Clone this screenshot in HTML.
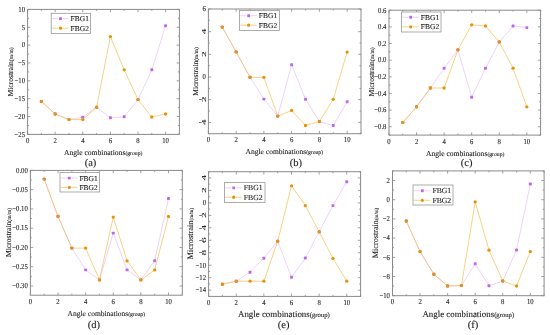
<!DOCTYPE html>
<html lang="en"><head><meta charset="utf-8"><title>FBG microstrain vs angle combinations</title>
<style>
html,body{margin:0;padding:0;background:#fff;}
svg{display:block;font-family:"Liberation Serif","Times New Roman",serif;fill:#262626;}
text{stroke:#262626;stroke-width:0.12px;text-rendering:geometricPrecision;}
</style></head><body>
<svg width="550" height="335" viewBox="0 0 550 335">
<rect width="550" height="335" fill="#fff"/>
<g id="chart-a">
<path d="M27.6 134.4v-2.8M27.6 9.4v2.8M41.4 134.4v-1.5M41.4 9.4v1.5M55.2 134.4v-2.8M55.2 9.4v2.8M69 134.4v-1.5M69 9.4v1.5M82.8 134.4v-2.8M82.8 9.4v2.8M96.6 134.4v-1.5M96.6 9.4v1.5M110.4 134.4v-2.8M110.4 9.4v2.8M124.2 134.4v-1.5M124.2 9.4v1.5M138 134.4v-2.8M138 9.4v2.8M151.8 134.4v-1.5M151.8 9.4v1.5M165.6 134.4v-2.8M165.6 9.4v2.8M179.4 134.4v-1.5M179.4 9.4v1.5M27.6 9.4h2.8M179.4 9.4h-2.8M27.6 18.33h1.5M179.4 18.33h-1.5M27.6 27.26h2.8M179.4 27.26h-2.8M27.6 36.19h1.5M179.4 36.19h-1.5M27.6 45.11h2.8M179.4 45.11h-2.8M27.6 54.04h1.5M179.4 54.04h-1.5M27.6 62.97h2.8M179.4 62.97h-2.8M27.6 71.9h1.5M179.4 71.9h-1.5M27.6 80.83h2.8M179.4 80.83h-2.8M27.6 89.76h1.5M179.4 89.76h-1.5M27.6 98.69h2.8M179.4 98.69h-2.8M27.6 107.61h1.5M179.4 107.61h-1.5M27.6 116.54h2.8M179.4 116.54h-2.8M27.6 125.47h1.5M179.4 125.47h-1.5M27.6 134.4h2.8M179.4 134.4h-2.8" stroke="#8a8a8a" stroke-width="0.8" fill="none"/>
<rect x="27.6" y="9.4" width="151.8" height="125" fill="none" stroke="#8a8a8a" stroke-width="1"/>
<text transform="translate(27.6 143.1) scale(0.88,1)" font-size="7.6" text-anchor="middle">0</text>
<text transform="translate(55.2 143.1) scale(0.88,1)" font-size="7.6" text-anchor="middle">2</text>
<text transform="translate(82.8 143.1) scale(0.88,1)" font-size="7.6" text-anchor="middle">4</text>
<text transform="translate(110.4 143.1) scale(0.88,1)" font-size="7.6" text-anchor="middle">6</text>
<text transform="translate(138 143.1) scale(0.88,1)" font-size="7.6" text-anchor="middle">8</text>
<text transform="translate(165.6 143.1) scale(0.88,1)" font-size="7.6" text-anchor="middle">10</text>
<text transform="translate(25 11.7) scale(0.88,1)" font-size="7.6" text-anchor="end">10</text>
<text transform="translate(25 29.56) scale(0.88,1)" font-size="7.6" text-anchor="end">5</text>
<text transform="translate(25 47.41) scale(0.88,1)" font-size="7.6" text-anchor="end">0</text>
<text transform="translate(25 65.27) scale(0.88,1)" font-size="7.6" text-anchor="end">−5</text>
<text transform="translate(25 83.13) scale(0.88,1)" font-size="7.6" text-anchor="end">−10</text>
<text transform="translate(25 100.99) scale(0.88,1)" font-size="7.6" text-anchor="end">−15</text>
<text transform="translate(25 118.84) scale(0.88,1)" font-size="7.6" text-anchor="end">−20</text>
<text transform="translate(25 136.7) scale(0.88,1)" font-size="7.6" text-anchor="end">−25</text>
<polyline points="41.4,101.4 55.2,114 69,119.6 82.8,117.2 96.6,107.2 110.4,117.8 124.2,116.8 138,99.6 151.8,69.8 165.6,25.8" fill="none" stroke="#e6bffb" stroke-width="0.7"/>
<rect x="39.95" y="99.95" width="2.9" height="2.9" rx="0.7" fill="#bd66ee"/>
<rect x="53.75" y="112.55" width="2.9" height="2.9" rx="0.7" fill="#bd66ee"/>
<rect x="67.55" y="118.15" width="2.9" height="2.9" rx="0.7" fill="#bd66ee"/>
<rect x="81.35" y="115.75" width="2.9" height="2.9" rx="0.7" fill="#bd66ee"/>
<rect x="95.15" y="105.75" width="2.9" height="2.9" rx="0.7" fill="#bd66ee"/>
<rect x="108.95" y="116.35" width="2.9" height="2.9" rx="0.7" fill="#bd66ee"/>
<rect x="122.75" y="115.35" width="2.9" height="2.9" rx="0.7" fill="#bd66ee"/>
<rect x="136.55" y="98.15" width="2.9" height="2.9" rx="0.7" fill="#bd66ee"/>
<rect x="150.35" y="68.35" width="2.9" height="2.9" rx="0.7" fill="#bd66ee"/>
<rect x="164.15" y="24.35" width="2.9" height="2.9" rx="0.7" fill="#bd66ee"/>
<polyline points="41.4,101.4 55.2,114 69,119.6 82.8,119.6 96.6,107.2 110.4,36.6 124.2,69.8 138,99.6 151.8,117 165.6,114" fill="none" stroke="#f4bf50" stroke-width="0.7"/>
<circle cx="41.4" cy="101.4" r="1.65" fill="#e8920a"/>
<circle cx="55.2" cy="114" r="1.65" fill="#e8920a"/>
<circle cx="69" cy="119.6" r="1.65" fill="#e8920a"/>
<circle cx="82.8" cy="119.6" r="1.65" fill="#e8920a"/>
<circle cx="96.6" cy="107.2" r="1.65" fill="#e8920a"/>
<circle cx="110.4" cy="36.6" r="1.65" fill="#e8920a"/>
<circle cx="124.2" cy="69.8" r="1.65" fill="#e8920a"/>
<circle cx="138" cy="99.6" r="1.65" fill="#e8920a"/>
<circle cx="151.8" cy="117" r="1.65" fill="#e8920a"/>
<circle cx="165.6" cy="114" r="1.65" fill="#e8920a"/>
<rect x="51.2" y="13.3" width="39.4" height="20.1" fill="#fff" stroke="#989898" stroke-width="0.8"/>
<path d="M52 18.63H58.3M62.7 18.63H68.6" stroke="#e6bffb" stroke-width="0.7"/>
<rect x="59.05" y="17.18" width="2.9" height="2.9" rx="0.7" fill="#bd66ee"/>
<text x="70.6" y="21.23" font-size="7.5" stroke-width="0.2">FBG1</text>
<path d="M52 28.17H58.3M62.7 28.17H68.6" stroke="#f4bf50" stroke-width="0.7"/>
<circle cx="60.5" cy="28.17" r="1.65" fill="#e8920a"/>
<text x="70.6" y="30.77" font-size="7.5" stroke-width="0.2">FBG2</text>
<text x="64" y="155.05" font-size="7.6">Angle combinations<tspan font-size="5.7">(group)</tspan></text>
<text transform="translate(13.3 72) rotate(-90)" font-size="7.6" text-anchor="middle">Microstrain<tspan font-size="5.47">(m/m)</tspan></text>
<text x="90.5" y="166.2" font-size="10.5" text-anchor="middle" fill="#1a1a1a">(a)</text>
</g>
<g id="chart-b">
<path d="M208.4 133.7v-2.8M208.4 9v2.8M222.27 133.7v-1.5M222.27 9v1.5M236.15 133.7v-2.8M236.15 9v2.8M250.02 133.7v-1.5M250.02 9v1.5M263.89 133.7v-2.8M263.89 9v2.8M277.76 133.7v-1.5M277.76 9v1.5M291.64 133.7v-2.8M291.64 9v2.8M305.51 133.7v-1.5M305.51 9v1.5M319.38 133.7v-2.8M319.38 9v2.8M333.25 133.7v-1.5M333.25 9v1.5M347.13 133.7v-2.8M347.13 9v2.8M361 133.7v-1.5M361 9v1.5M208.4 9h2.8M361 9h-2.8M208.4 20.34h1.5M361 20.34h-1.5M208.4 31.67h2.8M361 31.67h-2.8M208.4 43.01h1.5M361 43.01h-1.5M208.4 54.35h2.8M361 54.35h-2.8M208.4 65.68h1.5M361 65.68h-1.5M208.4 77.02h2.8M361 77.02h-2.8M208.4 88.35h1.5M361 88.35h-1.5M208.4 99.69h2.8M361 99.69h-2.8M208.4 111.03h1.5M361 111.03h-1.5M208.4 122.36h2.8M361 122.36h-2.8M208.4 133.7h1.5M361 133.7h-1.5" stroke="#8a8a8a" stroke-width="0.8" fill="none"/>
<rect x="208.4" y="9" width="152.6" height="124.7" fill="none" stroke="#8a8a8a" stroke-width="1"/>
<text transform="translate(208.4 142.4) scale(0.88,1)" font-size="7.6" text-anchor="middle">0</text>
<text transform="translate(236.15 142.4) scale(0.88,1)" font-size="7.6" text-anchor="middle">2</text>
<text transform="translate(263.89 142.4) scale(0.88,1)" font-size="7.6" text-anchor="middle">4</text>
<text transform="translate(291.64 142.4) scale(0.88,1)" font-size="7.6" text-anchor="middle">6</text>
<text transform="translate(319.38 142.4) scale(0.88,1)" font-size="7.6" text-anchor="middle">8</text>
<text transform="translate(347.13 142.4) scale(0.88,1)" font-size="7.6" text-anchor="middle">10</text>
<text transform="translate(205.8 11.3) scale(0.88,1)" font-size="7.6" text-anchor="end">6</text>
<text transform="translate(205.7 31.47) rotate(-90) scale(1.5,0.8)" font-size="7.6" text-anchor="middle">4</text>
<text transform="translate(205.7 54.15) rotate(-90) scale(1.5,0.8)" font-size="7.6" text-anchor="middle">2</text>
<text transform="translate(205.8 79.32) scale(0.88,1)" font-size="7.6" text-anchor="end">0</text>
<text transform="translate(205.7 99.49) rotate(-90) scale(1.5,0.8)" font-size="7.6" text-anchor="middle">2</text>
<text x="201.8" y="101.39" font-size="5.4" text-anchor="end">−</text>
<text transform="translate(205.7 122.16) rotate(-90) scale(1.5,0.8)" font-size="7.6" text-anchor="middle">4</text>
<text x="201.8" y="124.06" font-size="5.4" text-anchor="end">−</text>
<polyline points="222.27,27.1 236.15,51.9 250.02,77.3 263.89,99.1 277.76,116.1 291.64,64.8 305.51,99.3 319.38,121.5 333.25,125.5 347.13,101.7" fill="none" stroke="#e6bffb" stroke-width="0.7"/>
<rect x="220.82" y="25.65" width="2.9" height="2.9" rx="0.7" fill="#bd66ee"/>
<rect x="234.7" y="50.45" width="2.9" height="2.9" rx="0.7" fill="#bd66ee"/>
<rect x="248.57" y="75.85" width="2.9" height="2.9" rx="0.7" fill="#bd66ee"/>
<rect x="262.44" y="97.65" width="2.9" height="2.9" rx="0.7" fill="#bd66ee"/>
<rect x="276.31" y="114.65" width="2.9" height="2.9" rx="0.7" fill="#bd66ee"/>
<rect x="290.19" y="63.35" width="2.9" height="2.9" rx="0.7" fill="#bd66ee"/>
<rect x="304.06" y="97.85" width="2.9" height="2.9" rx="0.7" fill="#bd66ee"/>
<rect x="317.93" y="120.05" width="2.9" height="2.9" rx="0.7" fill="#bd66ee"/>
<rect x="331.8" y="124.05" width="2.9" height="2.9" rx="0.7" fill="#bd66ee"/>
<rect x="345.68" y="100.25" width="2.9" height="2.9" rx="0.7" fill="#bd66ee"/>
<polyline points="222.27,27.1 236.15,51.9 250.02,77.3 263.89,77.3 277.76,116.1 291.64,110.5 305.51,125.5 319.38,121.5 333.25,99.3 347.13,52.1" fill="none" stroke="#f4bf50" stroke-width="0.7"/>
<circle cx="222.27" cy="27.1" r="1.65" fill="#e8920a"/>
<circle cx="236.15" cy="51.9" r="1.65" fill="#e8920a"/>
<circle cx="250.02" cy="77.3" r="1.65" fill="#e8920a"/>
<circle cx="263.89" cy="77.3" r="1.65" fill="#e8920a"/>
<circle cx="277.76" cy="116.1" r="1.65" fill="#e8920a"/>
<circle cx="291.64" cy="110.5" r="1.65" fill="#e8920a"/>
<circle cx="305.51" cy="125.5" r="1.65" fill="#e8920a"/>
<circle cx="319.38" cy="121.5" r="1.65" fill="#e8920a"/>
<circle cx="333.25" cy="99.3" r="1.65" fill="#e8920a"/>
<circle cx="347.13" cy="52.1" r="1.65" fill="#e8920a"/>
<rect x="239.4" y="10.4" width="40" height="20" fill="#fff" stroke="#989898" stroke-width="0.8"/>
<path d="M240.2 15.7H246.5M250.9 15.7H256.8" stroke="#e6bffb" stroke-width="0.7"/>
<rect x="247.25" y="14.25" width="2.9" height="2.9" rx="0.7" fill="#bd66ee"/>
<text x="258.8" y="18.3" font-size="7.5" stroke-width="0.2">FBG1</text>
<path d="M240.2 25.2H246.5M250.9 25.2H256.8" stroke="#f4bf50" stroke-width="0.7"/>
<circle cx="248.7" cy="25.2" r="1.65" fill="#e8920a"/>
<text x="258.8" y="27.8" font-size="7.5" stroke-width="0.2">FBG2</text>
<text x="245.6" y="154.43" font-size="7.5">Angle combinations<tspan font-size="5.62">(group)</tspan></text>
<text transform="translate(197.8 71.5) rotate(-90)" font-size="7.5" text-anchor="middle">Microstrain<tspan font-size="5.4">(m/m)</tspan></text>
<text x="295.8" y="166.4" font-size="10.5" text-anchor="middle" fill="#1a1a1a">(b)</text>
</g>
<g id="chart-c">
<path d="M389 135.1v-2.8M389 10.2v2.8M402.78 135.1v-1.5M402.78 10.2v1.5M416.56 135.1v-2.8M416.56 10.2v2.8M430.35 135.1v-1.5M430.35 10.2v1.5M444.13 135.1v-2.8M444.13 10.2v2.8M457.91 135.1v-1.5M457.91 10.2v1.5M471.69 135.1v-2.8M471.69 10.2v2.8M485.47 135.1v-1.5M485.47 10.2v1.5M499.25 135.1v-2.8M499.25 10.2v2.8M513.04 135.1v-1.5M513.04 10.2v1.5M526.82 135.1v-2.8M526.82 10.2v2.8M540.6 135.1v-1.5M540.6 10.2v1.5M389 10.2h2.8M540.6 10.2h-2.8M389 18.53h1.5M540.6 18.53h-1.5M389 26.85h2.8M540.6 26.85h-2.8M389 35.18h1.5M540.6 35.18h-1.5M389 43.51h2.8M540.6 43.51h-2.8M389 51.83h1.5M540.6 51.83h-1.5M389 60.16h2.8M540.6 60.16h-2.8M389 68.49h1.5M540.6 68.49h-1.5M389 76.81h2.8M540.6 76.81h-2.8M389 85.14h1.5M540.6 85.14h-1.5M389 93.47h2.8M540.6 93.47h-2.8M389 101.79h1.5M540.6 101.79h-1.5M389 110.12h2.8M540.6 110.12h-2.8M389 118.45h1.5M540.6 118.45h-1.5M389 126.77h2.8M540.6 126.77h-2.8M389 135.1h1.5M540.6 135.1h-1.5" stroke="#8a8a8a" stroke-width="0.8" fill="none"/>
<rect x="389" y="10.2" width="151.6" height="124.9" fill="none" stroke="#8a8a8a" stroke-width="1"/>
<text transform="translate(389 144) scale(0.88,1)" font-size="7.6" text-anchor="middle">0</text>
<text transform="translate(416.56 144) scale(0.88,1)" font-size="7.6" text-anchor="middle">2</text>
<text transform="translate(444.13 144) scale(0.88,1)" font-size="7.6" text-anchor="middle">4</text>
<text transform="translate(471.69 144) scale(0.88,1)" font-size="7.6" text-anchor="middle">6</text>
<text transform="translate(499.25 144) scale(0.88,1)" font-size="7.6" text-anchor="middle">8</text>
<text transform="translate(526.82 144) scale(0.88,1)" font-size="7.6" text-anchor="middle">10</text>
<text transform="translate(386.4 12.5) scale(0.88,1)" font-size="7.6" text-anchor="end">0.6</text>
<text transform="translate(386.4 29.15) scale(0.88,1)" font-size="7.6" text-anchor="end">0.4</text>
<text transform="translate(386.4 45.81) scale(0.88,1)" font-size="7.6" text-anchor="end">0.2</text>
<text transform="translate(386.4 62.46) scale(0.88,1)" font-size="7.6" text-anchor="end">0.0</text>
<text transform="translate(386.4 79.11) scale(0.88,1)" font-size="7.6" text-anchor="end">−0.2</text>
<text transform="translate(386.4 95.77) scale(0.88,1)" font-size="7.6" text-anchor="end">−0.4</text>
<text transform="translate(386.4 112.42) scale(0.88,1)" font-size="7.6" text-anchor="end">−0.6</text>
<text transform="translate(386.4 129.07) scale(0.88,1)" font-size="7.6" text-anchor="end">−0.8</text>
<polyline points="402.78,122.4 416.56,106.8 430.35,88 444.13,68.2 457.91,49.8 471.69,97.2 485.47,68.2 499.25,42 513.04,26 526.82,27.6" fill="none" stroke="#e6bffb" stroke-width="0.7"/>
<rect x="401.33" y="120.95" width="2.9" height="2.9" rx="0.7" fill="#bd66ee"/>
<rect x="415.11" y="105.35" width="2.9" height="2.9" rx="0.7" fill="#bd66ee"/>
<rect x="428.9" y="86.55" width="2.9" height="2.9" rx="0.7" fill="#bd66ee"/>
<rect x="442.68" y="66.75" width="2.9" height="2.9" rx="0.7" fill="#bd66ee"/>
<rect x="456.46" y="48.35" width="2.9" height="2.9" rx="0.7" fill="#bd66ee"/>
<rect x="470.24" y="95.75" width="2.9" height="2.9" rx="0.7" fill="#bd66ee"/>
<rect x="484.02" y="66.75" width="2.9" height="2.9" rx="0.7" fill="#bd66ee"/>
<rect x="497.8" y="40.55" width="2.9" height="2.9" rx="0.7" fill="#bd66ee"/>
<rect x="511.59" y="24.55" width="2.9" height="2.9" rx="0.7" fill="#bd66ee"/>
<rect x="525.37" y="26.15" width="2.9" height="2.9" rx="0.7" fill="#bd66ee"/>
<polyline points="402.78,122.4 416.56,106.8 430.35,88 444.13,88 457.91,49.8 471.69,24.8 485.47,26 499.25,42 513.04,68.2 526.82,106.8" fill="none" stroke="#f4bf50" stroke-width="0.7"/>
<circle cx="402.78" cy="122.4" r="1.65" fill="#e8920a"/>
<circle cx="416.56" cy="106.8" r="1.65" fill="#e8920a"/>
<circle cx="430.35" cy="88" r="1.65" fill="#e8920a"/>
<circle cx="444.13" cy="88" r="1.65" fill="#e8920a"/>
<circle cx="457.91" cy="49.8" r="1.65" fill="#e8920a"/>
<circle cx="471.69" cy="24.8" r="1.65" fill="#e8920a"/>
<circle cx="485.47" cy="26" r="1.65" fill="#e8920a"/>
<circle cx="499.25" cy="42" r="1.65" fill="#e8920a"/>
<circle cx="513.04" cy="68.2" r="1.65" fill="#e8920a"/>
<circle cx="526.82" cy="106.8" r="1.65" fill="#e8920a"/>
<rect x="401.4" y="12" width="39.6" height="20" fill="#fff" stroke="#989898" stroke-width="0.8"/>
<path d="M402.2 17.3H408.5M412.9 17.3H418.8" stroke="#e6bffb" stroke-width="0.7"/>
<rect x="409.25" y="15.85" width="2.9" height="2.9" rx="0.7" fill="#bd66ee"/>
<text x="420.8" y="19.9" font-size="7.5" stroke-width="0.2">FBG1</text>
<path d="M402.2 26.8H408.5M412.9 26.8H418.8" stroke="#f4bf50" stroke-width="0.7"/>
<circle cx="410.7" cy="26.8" r="1.65" fill="#e8920a"/>
<text x="420.8" y="29.4" font-size="7.5" stroke-width="0.2">FBG2</text>
<text x="426" y="155.85" font-size="7.6">Angle combinations<tspan font-size="5.7">(group)</tspan></text>
<text transform="translate(373.7 72) rotate(-90)" font-size="7.6" text-anchor="middle">Microstrain<tspan font-size="5.47">(m/m)</tspan></text>
<text x="466.7" y="166.3" font-size="10.5" text-anchor="middle" fill="#1a1a1a">(c)</text>
</g>
<g id="chart-d">
<path d="M30.4 295.2v-2.8M30.4 170.4v2.8M44.21 295.2v-1.5M44.21 170.4v1.5M58.02 295.2v-2.8M58.02 170.4v2.8M71.83 295.2v-1.5M71.83 170.4v1.5M85.64 295.2v-2.8M85.64 170.4v2.8M99.45 295.2v-1.5M99.45 170.4v1.5M113.25 295.2v-2.8M113.25 170.4v2.8M127.06 295.2v-1.5M127.06 170.4v1.5M140.87 295.2v-2.8M140.87 170.4v2.8M154.68 295.2v-1.5M154.68 170.4v1.5M168.49 295.2v-2.8M168.49 170.4v2.8M182.3 295.2v-1.5M182.3 170.4v1.5M30.4 170.4h2.8M182.3 170.4h-2.8M30.4 180.03h1.5M182.3 180.03h-1.5M30.4 189.66h2.8M182.3 189.66h-2.8M30.4 199.29h1.5M182.3 199.29h-1.5M30.4 208.92h2.8M182.3 208.92h-2.8M30.4 218.55h1.5M182.3 218.55h-1.5M30.4 228.18h2.8M182.3 228.18h-2.8M30.4 237.81h1.5M182.3 237.81h-1.5M30.4 247.44h2.8M182.3 247.44h-2.8M30.4 257.07h1.5M182.3 257.07h-1.5M30.4 266.7h2.8M182.3 266.7h-2.8M30.4 276.33h1.5M182.3 276.33h-1.5M30.4 285.96h2.8M182.3 285.96h-2.8" stroke="#8a8a8a" stroke-width="0.8" fill="none"/>
<rect x="30.4" y="170.4" width="151.9" height="124.8" fill="none" stroke="#8a8a8a" stroke-width="1"/>
<text transform="translate(30.4 303.8) scale(0.88,1)" font-size="7.6" text-anchor="middle">0</text>
<text transform="translate(58.02 303.8) scale(0.88,1)" font-size="7.6" text-anchor="middle">2</text>
<text transform="translate(85.64 303.8) scale(0.88,1)" font-size="7.6" text-anchor="middle">4</text>
<text transform="translate(113.25 303.8) scale(0.88,1)" font-size="7.6" text-anchor="middle">6</text>
<text transform="translate(140.87 303.8) scale(0.88,1)" font-size="7.6" text-anchor="middle">8</text>
<text transform="translate(168.49 303.8) scale(0.88,1)" font-size="7.6" text-anchor="middle">10</text>
<text transform="translate(27.8 172.7) scale(0.88,1)" font-size="7.6" text-anchor="end">0.00</text>
<text transform="translate(27.8 191.96) scale(0.88,1)" font-size="7.6" text-anchor="end">−0.05</text>
<text transform="translate(27.8 211.22) scale(0.88,1)" font-size="7.6" text-anchor="end">−0.10</text>
<text transform="translate(27.8 230.48) scale(0.88,1)" font-size="7.6" text-anchor="end">−0.15</text>
<text transform="translate(27.8 249.74) scale(0.88,1)" font-size="7.6" text-anchor="end">−0.20</text>
<text transform="translate(27.8 269) scale(0.88,1)" font-size="7.6" text-anchor="end">−0.25</text>
<text transform="translate(27.8 288.26) scale(0.88,1)" font-size="7.6" text-anchor="end">−0.30</text>
<polyline points="44.21,179.1 58.02,216.3 71.83,248.1 85.64,269.9 99.45,279.9 113.25,233.1 127.06,269.9 140.87,279.9 154.68,260.7 168.49,198.5" fill="none" stroke="#e6bffb" stroke-width="0.7"/>
<rect x="42.76" y="177.65" width="2.9" height="2.9" rx="0.7" fill="#bd66ee"/>
<rect x="56.57" y="214.85" width="2.9" height="2.9" rx="0.7" fill="#bd66ee"/>
<rect x="70.38" y="246.65" width="2.9" height="2.9" rx="0.7" fill="#bd66ee"/>
<rect x="84.19" y="268.45" width="2.9" height="2.9" rx="0.7" fill="#bd66ee"/>
<rect x="98" y="278.45" width="2.9" height="2.9" rx="0.7" fill="#bd66ee"/>
<rect x="111.8" y="231.65" width="2.9" height="2.9" rx="0.7" fill="#bd66ee"/>
<rect x="125.61" y="268.45" width="2.9" height="2.9" rx="0.7" fill="#bd66ee"/>
<rect x="139.42" y="278.45" width="2.9" height="2.9" rx="0.7" fill="#bd66ee"/>
<rect x="153.23" y="259.25" width="2.9" height="2.9" rx="0.7" fill="#bd66ee"/>
<rect x="167.04" y="197.05" width="2.9" height="2.9" rx="0.7" fill="#bd66ee"/>
<polyline points="44.21,179.1 58.02,216.3 71.83,248.1 85.64,248.1 99.45,279.9 113.25,217.1 127.06,260.9 140.87,279.9 154.68,269.9 168.49,216.5" fill="none" stroke="#f4bf50" stroke-width="0.7"/>
<circle cx="44.21" cy="179.1" r="1.65" fill="#e8920a"/>
<circle cx="58.02" cy="216.3" r="1.65" fill="#e8920a"/>
<circle cx="71.83" cy="248.1" r="1.65" fill="#e8920a"/>
<circle cx="85.64" cy="248.1" r="1.65" fill="#e8920a"/>
<circle cx="99.45" cy="279.9" r="1.65" fill="#e8920a"/>
<circle cx="113.25" cy="217.1" r="1.65" fill="#e8920a"/>
<circle cx="127.06" cy="260.9" r="1.65" fill="#e8920a"/>
<circle cx="140.87" cy="279.9" r="1.65" fill="#e8920a"/>
<circle cx="154.68" cy="269.9" r="1.65" fill="#e8920a"/>
<circle cx="168.49" cy="216.5" r="1.65" fill="#e8920a"/>
<rect x="60" y="172.4" width="39.4" height="19.6" fill="#fff" stroke="#989898" stroke-width="0.8"/>
<path d="M60.8 178.09H67.1M71.5 178.09H77.4" stroke="#e6bffb" stroke-width="0.7"/>
<rect x="67.85" y="176.64" width="2.9" height="2.9" rx="0.7" fill="#bd66ee"/>
<text x="79.4" y="180.69" font-size="7.5" stroke-width="0.2">FBG1</text>
<path d="M60.8 187.4H67.1M71.5 187.4H77.4" stroke="#f4bf50" stroke-width="0.7"/>
<circle cx="69.3" cy="187.4" r="1.65" fill="#e8920a"/>
<text x="79.4" y="190" font-size="7.5" stroke-width="0.2">FBG2</text>
<text x="67.6" y="316.22" font-size="7.5">Angle combinations<tspan font-size="5.62">(group)</tspan></text>
<text transform="translate(11 232.5) rotate(-90)" font-size="7.6" text-anchor="middle">Microstrain<tspan font-size="5.47">(m/m)</tspan></text>
<text x="93.8" y="328.2" font-size="10.5" text-anchor="middle" fill="#1a1a1a">(d)</text>
</g>
<g id="chart-e">
<path d="M208.6 296.4v-2.8M208.6 171.7v2.8M222.42 296.4v-1.5M222.42 171.7v1.5M236.24 296.4v-2.8M236.24 171.7v2.8M250.05 296.4v-1.5M250.05 171.7v1.5M263.87 296.4v-2.8M263.87 171.7v2.8M277.69 296.4v-1.5M277.69 171.7v1.5M291.51 296.4v-2.8M291.51 171.7v2.8M305.33 296.4v-1.5M305.33 171.7v1.5M319.15 296.4v-2.8M319.15 171.7v2.8M332.96 296.4v-1.5M332.96 171.7v1.5M346.78 296.4v-2.8M346.78 171.7v2.8M360.6 296.4v-1.5M360.6 171.7v1.5M208.6 177.94h2.8M360.6 177.94h-2.8M208.6 184.17h1.5M360.6 184.17h-1.5M208.6 190.4h2.8M360.6 190.4h-2.8M208.6 196.64h1.5M360.6 196.64h-1.5M208.6 202.88h2.8M360.6 202.88h-2.8M208.6 209.11h1.5M360.6 209.11h-1.5M208.6 215.34h2.8M360.6 215.34h-2.8M208.6 221.58h1.5M360.6 221.58h-1.5M208.6 227.81h2.8M360.6 227.81h-2.8M208.6 234.05h1.5M360.6 234.05h-1.5M208.6 240.28h2.8M360.6 240.28h-2.8M208.6 246.52h1.5M360.6 246.52h-1.5M208.6 252.75h2.8M360.6 252.75h-2.8M208.6 258.99h1.5M360.6 258.99h-1.5M208.6 265.22h2.8M360.6 265.22h-2.8M208.6 271.46h1.5M360.6 271.46h-1.5M208.6 277.69h2.8M360.6 277.69h-2.8M208.6 283.93h1.5M360.6 283.93h-1.5M208.6 290.16h2.8M360.6 290.16h-2.8M208.6 296.4h1.5M360.6 296.4h-1.5M208.6 171.7h1.5M360.6 171.7h-1.5" stroke="#8a8a8a" stroke-width="0.8" fill="none"/>
<rect x="208.6" y="171.7" width="152" height="124.7" fill="none" stroke="#8a8a8a" stroke-width="1"/>
<text transform="translate(208.6 304.7) scale(0.88,1)" font-size="7.6" text-anchor="middle">0</text>
<text transform="translate(236.24 304.7) scale(0.88,1)" font-size="7.6" text-anchor="middle">2</text>
<text transform="translate(263.87 304.7) scale(0.88,1)" font-size="7.6" text-anchor="middle">4</text>
<text transform="translate(291.51 304.7) scale(0.88,1)" font-size="7.6" text-anchor="middle">6</text>
<text transform="translate(319.15 304.7) scale(0.88,1)" font-size="7.6" text-anchor="middle">8</text>
<text transform="translate(346.78 304.7) scale(0.88,1)" font-size="7.6" text-anchor="middle">10</text>
<text transform="translate(205.9 177.74) rotate(-90) scale(1.5,0.8)" font-size="7.6" text-anchor="middle">4</text>
<text transform="translate(205.9 190.2) rotate(-90) scale(1.5,0.8)" font-size="7.6" text-anchor="middle">2</text>
<text transform="translate(206 205.18) scale(0.88,1)" font-size="7.6" text-anchor="end">0</text>
<text transform="translate(205.9 215.14) rotate(-90) scale(1.5,0.8)" font-size="7.6" text-anchor="middle">2</text>
<text x="202" y="217.04" font-size="5.4" text-anchor="end">−</text>
<text transform="translate(205.9 227.62) rotate(-90) scale(1.5,0.8)" font-size="7.6" text-anchor="middle">4</text>
<text x="202" y="229.51" font-size="5.4" text-anchor="end">−</text>
<text transform="translate(205.9 240.08) rotate(-90) scale(1.5,0.8)" font-size="7.6" text-anchor="middle">6</text>
<text x="202" y="241.98" font-size="5.4" text-anchor="end">−</text>
<text transform="translate(205.9 252.56) rotate(-90) scale(1.5,0.8)" font-size="7.6" text-anchor="middle">8</text>
<text x="202" y="254.45" font-size="5.4" text-anchor="end">−</text>
<text transform="translate(206 267.52) scale(0.88,1)" font-size="7.6" text-anchor="end">−10</text>
<text transform="translate(206 280) scale(0.88,1)" font-size="7.6" text-anchor="end">−12</text>
<text transform="translate(206 292.46) scale(0.88,1)" font-size="7.6" text-anchor="end">−14</text>
<polyline points="222.42,284.2 236.24,281.2 250.05,272.2 263.87,258.2 277.69,241.2 291.51,277.2 305.33,258 319.15,231.8 332.96,205.6 346.78,181.8" fill="none" stroke="#e6bffb" stroke-width="0.7"/>
<rect x="220.97" y="282.75" width="2.9" height="2.9" rx="0.7" fill="#bd66ee"/>
<rect x="234.79" y="279.75" width="2.9" height="2.9" rx="0.7" fill="#bd66ee"/>
<rect x="248.6" y="270.75" width="2.9" height="2.9" rx="0.7" fill="#bd66ee"/>
<rect x="262.42" y="256.75" width="2.9" height="2.9" rx="0.7" fill="#bd66ee"/>
<rect x="276.24" y="239.75" width="2.9" height="2.9" rx="0.7" fill="#bd66ee"/>
<rect x="290.06" y="275.75" width="2.9" height="2.9" rx="0.7" fill="#bd66ee"/>
<rect x="303.88" y="256.55" width="2.9" height="2.9" rx="0.7" fill="#bd66ee"/>
<rect x="317.7" y="230.35" width="2.9" height="2.9" rx="0.7" fill="#bd66ee"/>
<rect x="331.51" y="204.15" width="2.9" height="2.9" rx="0.7" fill="#bd66ee"/>
<rect x="345.33" y="180.35" width="2.9" height="2.9" rx="0.7" fill="#bd66ee"/>
<polyline points="222.42,284.2 236.24,281.2 250.05,281.2 263.87,281.2 277.69,241.2 291.51,185.8 305.33,205.6 319.15,231.8 332.96,258.4 346.78,281.2" fill="none" stroke="#f4bf50" stroke-width="0.7"/>
<circle cx="222.42" cy="284.2" r="1.65" fill="#e8920a"/>
<circle cx="236.24" cy="281.2" r="1.65" fill="#e8920a"/>
<circle cx="250.05" cy="281.2" r="1.65" fill="#e8920a"/>
<circle cx="263.87" cy="281.2" r="1.65" fill="#e8920a"/>
<circle cx="277.69" cy="241.2" r="1.65" fill="#e8920a"/>
<circle cx="291.51" cy="185.8" r="1.65" fill="#e8920a"/>
<circle cx="305.33" cy="205.6" r="1.65" fill="#e8920a"/>
<circle cx="319.15" cy="231.8" r="1.65" fill="#e8920a"/>
<circle cx="332.96" cy="258.4" r="1.65" fill="#e8920a"/>
<circle cx="346.78" cy="281.2" r="1.65" fill="#e8920a"/>
<rect x="224.4" y="182.6" width="40.6" height="19.8" fill="#fff" stroke="#989898" stroke-width="0.8"/>
<path d="M225.2 187.85H231.5M235.9 187.85H241.8" stroke="#e6bffb" stroke-width="0.7"/>
<rect x="232.25" y="186.4" width="2.9" height="2.9" rx="0.7" fill="#bd66ee"/>
<text x="243.8" y="190.45" font-size="7.7" stroke-width="0.2">FBG1</text>
<path d="M225.2 197.25H231.5M235.9 197.25H241.8" stroke="#f4bf50" stroke-width="0.7"/>
<circle cx="233.7" cy="197.25" r="1.65" fill="#e8920a"/>
<text x="243.8" y="199.85" font-size="7.7" stroke-width="0.2">FBG2</text>
<text x="238" y="317.4" font-size="8.9">Angle combinations<tspan font-size="6.68">(group)</tspan></text>
<text transform="translate(193.3 233.7) rotate(-90)" font-size="8.4" text-anchor="middle">Microstrain<tspan font-size="5.04">(m/m)</tspan></text>
<text x="283.7" y="327.6" font-size="10.5" text-anchor="middle" fill="#1a1a1a">(e)</text>
</g>
<g id="chart-f">
<path d="M392.5 295.7v-2.8M392.5 170.9v2.8M406.28 295.7v-1.5M406.28 170.9v1.5M420.06 295.7v-2.8M420.06 170.9v2.8M433.85 295.7v-1.5M433.85 170.9v1.5M447.63 295.7v-2.8M447.63 170.9v2.8M461.41 295.7v-1.5M461.41 170.9v1.5M475.19 295.7v-2.8M475.19 170.9v2.8M488.97 295.7v-1.5M488.97 170.9v1.5M502.75 295.7v-2.8M502.75 170.9v2.8M516.54 295.7v-1.5M516.54 170.9v1.5M530.32 295.7v-2.8M530.32 170.9v2.8M544.1 295.7v-1.5M544.1 170.9v1.5M392.5 180.5h2.8M544.1 180.5h-2.8M392.5 190.1h1.5M544.1 190.1h-1.5M392.5 199.7h2.8M544.1 199.7h-2.8M392.5 209.3h1.5M544.1 209.3h-1.5M392.5 218.9h2.8M544.1 218.9h-2.8M392.5 228.5h1.5M544.1 228.5h-1.5M392.5 238.1h2.8M544.1 238.1h-2.8M392.5 247.7h1.5M544.1 247.7h-1.5M392.5 257.3h2.8M544.1 257.3h-2.8M392.5 266.9h1.5M544.1 266.9h-1.5M392.5 276.5h2.8M544.1 276.5h-2.8M392.5 286.1h1.5M544.1 286.1h-1.5M392.5 295.7h2.8M544.1 295.7h-2.8M392.5 170.9h1.5M544.1 170.9h-1.5" stroke="#8a8a8a" stroke-width="0.8" fill="none"/>
<rect x="392.5" y="170.9" width="151.6" height="124.8" fill="none" stroke="#8a8a8a" stroke-width="1"/>
<text transform="translate(392.5 303.9) scale(0.88,1)" font-size="7.6" text-anchor="middle">0</text>
<text transform="translate(420.06 303.9) scale(0.88,1)" font-size="7.6" text-anchor="middle">2</text>
<text transform="translate(447.63 303.9) scale(0.88,1)" font-size="7.6" text-anchor="middle">4</text>
<text transform="translate(475.19 303.9) scale(0.88,1)" font-size="7.6" text-anchor="middle">6</text>
<text transform="translate(502.75 303.9) scale(0.88,1)" font-size="7.6" text-anchor="middle">8</text>
<text transform="translate(530.32 303.9) scale(0.88,1)" font-size="7.6" text-anchor="middle">10</text>
<text transform="translate(389.9 182.8) scale(0.88,1)" font-size="7.6" text-anchor="end">2</text>
<text transform="translate(389.9 202) scale(0.88,1)" font-size="7.6" text-anchor="end">0</text>
<text transform="translate(389.9 221.2) scale(0.88,1)" font-size="7.6" text-anchor="end">−2</text>
<text transform="translate(389.9 240.4) scale(0.88,1)" font-size="7.6" text-anchor="end">−4</text>
<text transform="translate(389.9 259.6) scale(0.88,1)" font-size="7.6" text-anchor="end">−6</text>
<text transform="translate(389.9 278.8) scale(0.88,1)" font-size="7.6" text-anchor="end">−8</text>
<text transform="translate(389.9 298) scale(0.88,1)" font-size="7.6" text-anchor="end">−10</text>
<polyline points="406.28,221 420.06,251.6 433.85,274.2 447.63,286 461.41,285.6 475.19,263.8 488.97,285.8 502.75,281 516.54,250 530.32,184" fill="none" stroke="#e6bffb" stroke-width="0.7"/>
<rect x="404.83" y="219.55" width="2.9" height="2.9" rx="0.7" fill="#bd66ee"/>
<rect x="418.61" y="250.15" width="2.9" height="2.9" rx="0.7" fill="#bd66ee"/>
<rect x="432.4" y="272.75" width="2.9" height="2.9" rx="0.7" fill="#bd66ee"/>
<rect x="446.18" y="284.55" width="2.9" height="2.9" rx="0.7" fill="#bd66ee"/>
<rect x="459.96" y="284.15" width="2.9" height="2.9" rx="0.7" fill="#bd66ee"/>
<rect x="473.74" y="262.35" width="2.9" height="2.9" rx="0.7" fill="#bd66ee"/>
<rect x="487.52" y="284.35" width="2.9" height="2.9" rx="0.7" fill="#bd66ee"/>
<rect x="501.3" y="279.55" width="2.9" height="2.9" rx="0.7" fill="#bd66ee"/>
<rect x="515.09" y="248.55" width="2.9" height="2.9" rx="0.7" fill="#bd66ee"/>
<rect x="528.87" y="182.55" width="2.9" height="2.9" rx="0.7" fill="#bd66ee"/>
<polyline points="406.28,221 420.06,251.6 433.85,274.2 447.63,286 461.41,285.6 475.19,201.8 488.97,250.2 502.75,281 516.54,286 530.32,251.6" fill="none" stroke="#f4bf50" stroke-width="0.7"/>
<circle cx="406.28" cy="221" r="1.65" fill="#e8920a"/>
<circle cx="420.06" cy="251.6" r="1.65" fill="#e8920a"/>
<circle cx="433.85" cy="274.2" r="1.65" fill="#e8920a"/>
<circle cx="447.63" cy="286" r="1.65" fill="#e8920a"/>
<circle cx="461.41" cy="285.6" r="1.65" fill="#e8920a"/>
<circle cx="475.19" cy="201.8" r="1.65" fill="#e8920a"/>
<circle cx="488.97" cy="250.2" r="1.65" fill="#e8920a"/>
<circle cx="502.75" cy="281" r="1.65" fill="#e8920a"/>
<circle cx="516.54" cy="286" r="1.65" fill="#e8920a"/>
<circle cx="530.32" cy="251.6" r="1.65" fill="#e8920a"/>
<rect x="413" y="185" width="40" height="20" fill="#fff" stroke="#989898" stroke-width="0.8"/>
<path d="M413.8 190.8H420.1M424.5 190.8H430.4" stroke="#e6bffb" stroke-width="0.7"/>
<rect x="420.85" y="189.35" width="2.9" height="2.9" rx="0.7" fill="#bd66ee"/>
<text x="432.4" y="193.4" font-size="7.7" stroke-width="0.2">FBG1</text>
<path d="M413.8 200.3H420.1M424.5 200.3H430.4" stroke="#f4bf50" stroke-width="0.7"/>
<circle cx="422.3" cy="200.3" r="1.65" fill="#e8920a"/>
<text x="432.4" y="202.9" font-size="7.7" stroke-width="0.2">FBG2</text>
<text x="422.4" y="317.4" font-size="8.9">Angle combinations<tspan font-size="6.68">(group)</tspan></text>
<text transform="translate(378.2 233) rotate(-90)" font-size="8.2" text-anchor="middle">Microstrain<tspan font-size="4.92">(m/m)</tspan></text>
<text x="473" y="328" font-size="10.5" text-anchor="middle" fill="#1a1a1a">(f)</text>
</g>
</svg>
</body></html>
